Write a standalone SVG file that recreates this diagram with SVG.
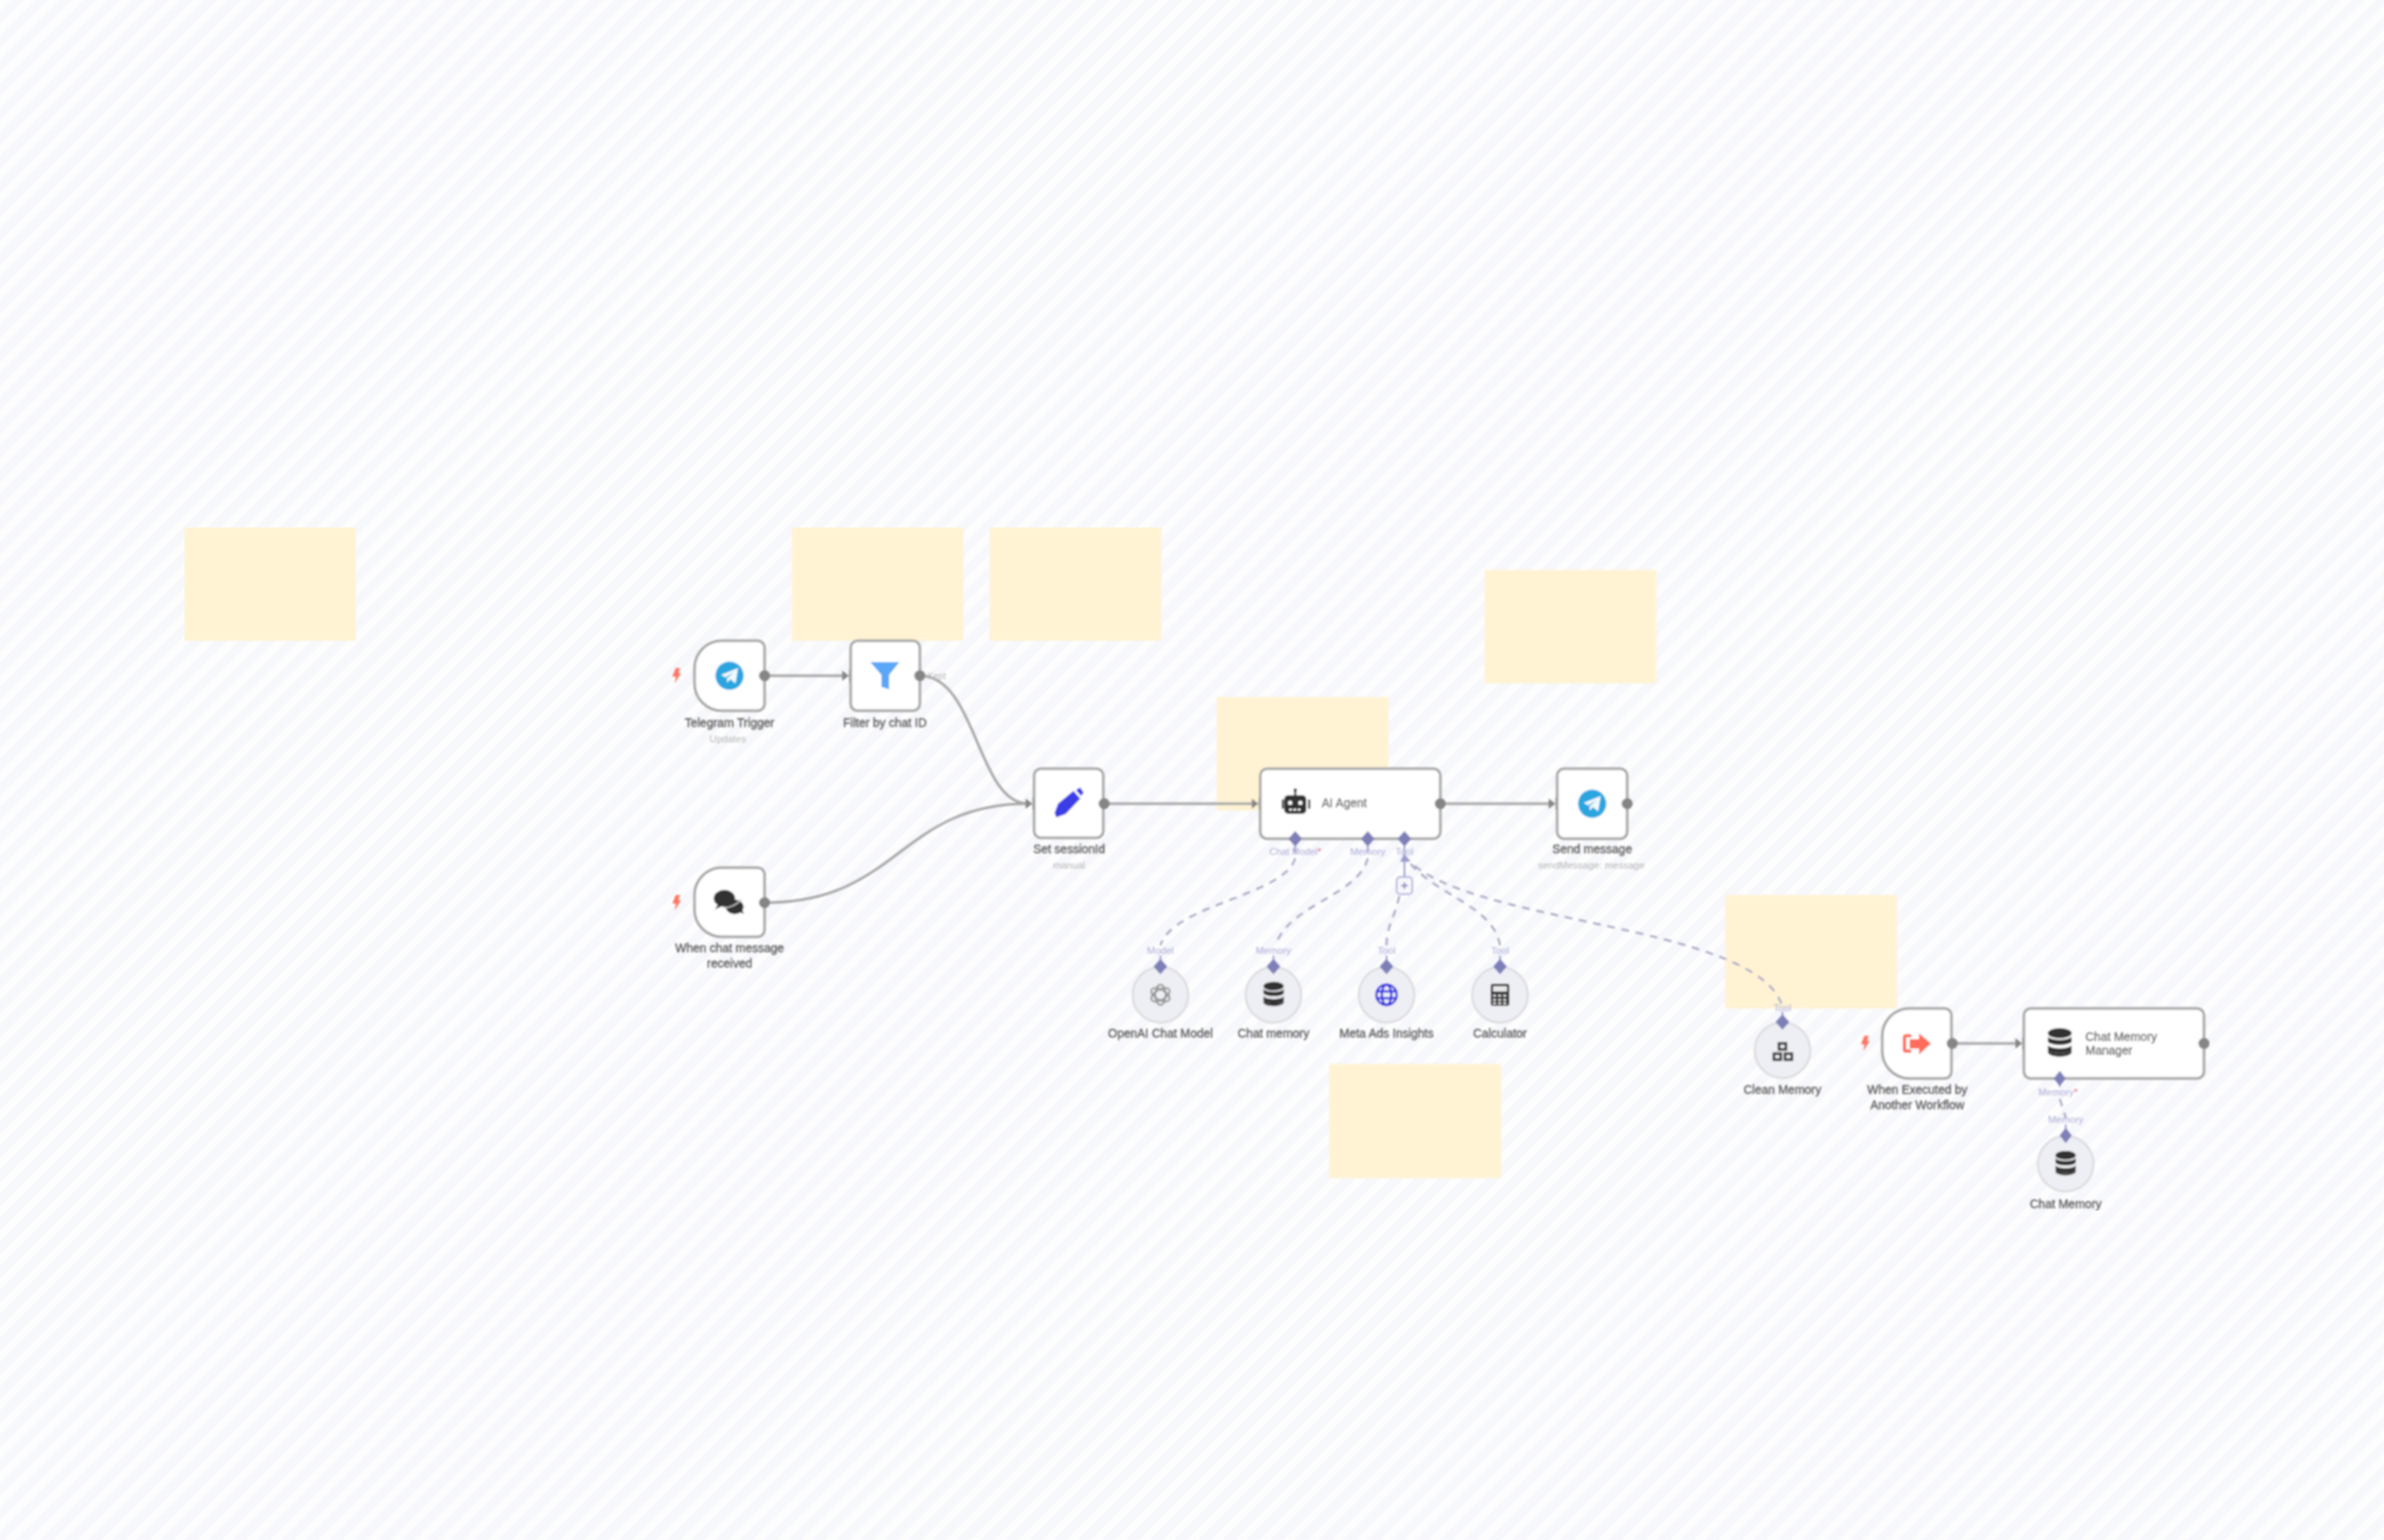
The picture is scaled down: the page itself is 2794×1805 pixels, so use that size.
<svg xmlns="http://www.w3.org/2000/svg" width="2794" height="1805" viewBox="0 0 2794 1805">
<style>
text{font-family:"Liberation Sans",Arial,sans-serif}
.box{fill:#fff;stroke:#a4a4a4;stroke-width:3}
.sticky{fill:#fff3d4}
.name{font-size:14px;fill:#5c5c5c;text-anchor:middle;font-weight:400;stroke:#5c5c5c;stroke-width:.35}
.sub{font-size:11.5px;fill:#b4b4b4;text-anchor:middle}
.port{font-size:11.5px;fill:#aaaad6;text-anchor:middle}
.req{fill:#f0556a}
.title{font-size:14px;fill:#5c5c5c;stroke:#5c5c5c;stroke-width:.3}
.dot{fill:#858585}
.sub-node{fill:#eeeff4;stroke:#dcdce0;stroke-width:2.5}
.dia{fill:#7f7fb8}
.stem{stroke:#a0a0d0;stroke-width:2;fill:none}
.main{fill:none;stroke:#a6a6a6;stroke-width:3}
.dash{fill:none;stroke:#a8a8c2;stroke-width:2.4;stroke-dasharray:9 8}
.tip{fill:#858585}
.bolt{fill:#ff7564}
.dark{fill:#333}
</style>
<defs>
<pattern id="bg" width="20" height="20" patternUnits="userSpaceOnUse" patternTransform="rotate(45)">
<rect width="20" height="20" fill="#f7f8fc"/>
<rect width="9" height="20" fill="#fdfdfe"/>
</pattern>
<filter id="soft" x="0" y="0" width="100%" height="100%"><feGaussianBlur stdDeviation="0.9"/></filter>
<g id="bolt-i"><path d="M-1-9 4-9 2-3 5-3-2 9-1 1-5 1Z" class="bolt"/></g>
<g id="tg"><circle r="16.500" fill="#2ca5e0"/><path d="M-10-1 10-9 7 9 1 4-3 8-3 3 5-4-5 2Z" fill="#f4fafd"/></g>
<g id="db"><ellipse cx="0" cy="-12" rx="14" ry="6" class="dark"/><path d="M-14-8C-10-3 10-3 14-8V-2C10 3-10 3-14-2ZM-14 2C-10 7 10 7 14 2V8C10 13-10 13-14 8Z" class="dark"/><path d="M-14 8C-10 13 10 13 14 8V11C10 17-10 17-14 11Z" class="dark"/></g>
<g id="tip-i"><path d="M-10-6-2 0-10 6Z" class="tip"/><rect x="-2" y="-7" width="4" height="14" class="tip"/></g>
</defs>
<rect width="2794" height="1805" fill="url(#bg)"/>
<g filter="url(#soft)">
<g id="stickies">
<rect class="sticky" x="216" y="618" width="201" height="133"/>
<rect class="sticky" x="928" y="618" width="201" height="133"/>
<rect class="sticky" x="1160" y="618" width="201" height="133"/>
<rect class="sticky" x="1740" y="668" width="201" height="133"/>
<rect class="sticky" x="1426" y="817" width="201" height="133"/>
<rect class="sticky" x="2022" y="1049" width="201" height="133"/>
<rect class="sticky" x="1558" y="1247" width="201" height="134"/>
</g>
<g id="connectors">
<path class="main" d="M896 792H990"/>
<path class="main" d="M1078 792C1145 792 1145 942 1205 942"/>
<path class="main" d="M896 1058C1054 1058 1054 942 1205 942"/>
<path class="main" d="M1294 942H1470"/>
<path class="main" d="M1688 942H1818"/>
<path class="main" d="M2288 1223H2365"/>
<use href="#tip-i" x="997" y="792"/>
<use href="#tip-i" x="1212" y="942"/>
<use href="#tip-i" x="1477" y="942"/>
<use href="#tip-i" x="1825" y="942"/>
<use href="#tip-i" x="2372" y="1223"/>
<path class="dash" d="M1518 1006C1505 1050 1375 1060 1360 1108"/>
<path class="dash" d="M1603 1006C1592 1050 1510 1060 1495 1108"/>
<path class="dash" d="M1625 1108C1625 1085 1635 1075 1640 1050"/>
<path class="dash" d="M1758 1108C1750 1060 1680 1050 1648 1006"/>
<path class="dash" d="M1646 1003C1710 1085 2060 1080 2089 1180"/>
<path class="dash" d="M2414 1288 2421 1310"/>
<path class="stem" d="M1518 983V1000M1603 983V1000M1646 983V1028"/>
<path d="M1646 1000 1641 1010H1651Z" fill="#9a9ad0"/>
<path class="stem" d="M1360 1133V1120M1492.500 1133V1120M1625 1133V1120M1758 1133V1120M2089 1198V1186M2421 1331V1318M2414 1264V1274"/>
<rect x="1637" y="1028" width="18" height="20" rx="4" fill="#f8f8fc" stroke="#b4b4e0" stroke-width="2"/>
<path d="M1642 1038H1650M1646 1034V1042" stroke="#8a8ac4" stroke-width="2"/>
</g>
<g id="telegram-trigger">
<path class="box" d="M846 751H888A8 8 0 0 1 896 759V825A8 8 0 0 1 888 833H846A32 32 0 0 1 814 801V783A32 32 0 0 1 846 751Z"/>
<use href="#tg" x="855" y="792"/><use href="#bolt-i" x="793" y="792"/>
<circle class="dot" cx="896" cy="792" r="6.500"/>
<text class="name" x="855" y="852">Telegram Trigger</text><text class="sub" x="853" y="870">Updates</text>
</g>
<g id="filter">
<rect class="box" x="997" y="751" width="81" height="82" rx="8"/>
<path d="M1020 776H1054L1042 791V808L1033 805V791Z" fill="#5aa7f7"/>
<circle class="dot" cx="1078" cy="792" r="6.500"/>
<text class="name" x="1037" y="852">Filter by chat ID</text>
<text x="1087" y="796" font-size="10.500" fill="#b5b5b5">Kept</text>
</g>
<g id="chat-trigger">
<path class="box" d="M846 1017H888A8 8 0 0 1 896 1025V1090A8 8 0 0 1 888 1098H846A32 32 0 0 1 814 1066V1049A32 32 0 0 1 846 1017Z"/>
<ellipse cx="849" cy="1053" rx="12.500" ry="10" class="dark"/><path d="M842 1059 838 1066 848 1061Z" class="dark"/>
<ellipse cx="861" cy="1063" rx="10.500" ry="8.500" class="dark"/><path d="M866 1069 872 1071 868 1063Z" class="dark"/>
<path d="M848 1064Q860 1064 869 1054" stroke="#ccc" stroke-width="1.500" fill="none"/>
<use href="#bolt-i" x="793" y="1058"/>
<circle class="dot" cx="896" cy="1058" r="6.500"/>
<text class="name" x="855" y="1116">When chat message</text><text class="name" x="855" y="1134">received</text>
</g>
<g id="set-session">
<rect class="box" x="1212" y="901" width="81" height="81" rx="8"/>
<path d="M1236 953 1240 942 1258 927 1266 936 1249 954 1238 958Z" fill="#3b3de6"/><path d="M1261 926 1266 923 1270 929 1267 933Z" fill="#3b3de6"/>
<circle class="dot" cx="1294" cy="942" r="6.500"/>
<text class="name" x="1253" y="1000">Set sessionId</text><text class="sub" x="1253" y="1018">manual</text>
</g>
<g id="ai-agent">
<rect class="box" x="1477" y="901" width="211" height="82" rx="8"/>
<rect x="1505" y="932" width="26" height="22" rx="5" class="dark"/><rect x="1502" y="937" width="2.500" height="11" class="dark"/><rect x="1533" y="937" width="2.500" height="11" class="dark"/>
<path d="M1518 932V926" stroke="#333" stroke-width="2.500"/><circle cx="1518" cy="926" r="2" class="dark"/>
<circle cx="1512" cy="941" r="2.500" fill="#fff"/><circle cx="1524" cy="941" r="2.500" fill="#fff"/><path d="M1511 949H1526" stroke="#fff" stroke-width="2" stroke-dasharray="3 2"/>
<text class="title" x="1549" y="946">AI Agent</text>
<circle class="dot" cx="1688" cy="942" r="6.500"/>
<path class="dia" d="M1518 974 1526 983 1518 992 1510 983Z"/><path class="dia" d="M1603 974 1611 983 1603 992 1595 983Z"/><path class="dia" d="M1646 974 1654 983 1646 992 1638 983Z"/>
<text class="port" x="1518" y="1002" style="font-size:11px">Chat Model<tspan class="req">*</tspan></text><text class="port" x="1603" y="1002">Memory</text><text class="port" x="1646" y="1002">Tool</text>
</g>
<g id="send-message">
<rect class="box" x="1825" y="901" width="82" height="82" rx="8"/>
<use href="#tg" x="1866" y="942"/>
<circle class="dot" cx="1907" cy="942" r="6.500"/>
<text class="name" x="1866" y="1000">Send message</text><text class="sub" x="1865" y="1018">sendMessage: message</text>
</g>
<g id="openai-model">
<circle class="sub-node" cx="1360" cy="1166" r="32.500"/>
<g fill="none" stroke="#949494" stroke-width="2"><ellipse cx="1360" cy="1166" rx="6" ry="12"/><ellipse cx="1360" cy="1166" rx="6" ry="12" transform="rotate(60 1360 1166)"/><ellipse cx="1360" cy="1166" rx="6" ry="12" transform="rotate(120 1360 1166)"/></g>
<path class="dia" d="M1360 1124 1368 1133 1360 1142 1352 1133Z"/>
<text class="port" x="1360" y="1118">Model</text><text class="name" x="1360" y="1216">OpenAI Chat Model</text>
</g>
<g id="chat-memory">
<circle class="sub-node" cx="1492.500" cy="1166" r="32.500"/>
<use href="#db" x="1492.500" y="1166" transform="translate(224 175) scale(.85)"/>
<path class="dia" d="M1492.500 1124 1500.500 1133 1492.500 1142 1484.500 1133Z"/>
<text class="port" x="1492.500" y="1118">Memory</text><text class="name" x="1492.500" y="1216">Chat memory</text>
</g>
<g id="meta-ads">
<circle class="sub-node" cx="1625" cy="1166" r="32.500"/>
<g fill="none" stroke="#2020e0" stroke-width="2.500"><circle cx="1625" cy="1166" r="12"/><ellipse cx="1625" cy="1166" rx="5.500" ry="12"/><path d="M1613 1162H1637M1613 1170H1637"/></g>
<path class="dia" d="M1625 1124 1633 1133 1625 1142 1617 1133Z"/>
<text class="port" x="1625" y="1118">Tool</text><text class="name" x="1625" y="1216">Meta Ads Insights</text>
</g>
<g id="calculator">
<circle class="sub-node" cx="1758" cy="1166" r="32.500"/>
<rect x="1747" y="1153" width="22" height="26" rx="3" fill="#3a3a3a"/><rect x="1750" y="1156" width="16" height="6" fill="#e8e8e8"/>
<path d="M1750 1167H1766M1750 1172H1766M1750 1176H1766" stroke="#e8e8e8" stroke-width="2" stroke-dasharray="3 3"/>
<path class="dia" d="M1758 1124 1766 1133 1758 1142 1750 1133Z"/>
<text class="port" x="1758" y="1118">Tool</text><text class="name" x="1758" y="1216">Calculator</text>
</g>
<g id="clean-memory">
<circle class="sub-node" cx="2089" cy="1231" r="32.500"/>
<g fill="#f4f4f7" stroke="#333" stroke-width="3"><rect x="2085" y="1223" width="8" height="7"/><rect x="2079" y="1235" width="8" height="7"/><rect x="2092" y="1235" width="8" height="7"/></g>
<path class="dia" d="M2089 1189 2097 1198 2089 1207 2081 1198Z"/>
<text class="port" x="2089" y="1185">Tool</text><text class="name" x="2089" y="1282">Clean Memory</text>
</g>
<g id="exec-trigger">
<path class="box" d="M2238 1182H2279A8 8 0 0 1 2287 1190V1256A8 8 0 0 1 2279 1264H2238A32 32 0 0 1 2206 1232V1214A32 32 0 0 1 2238 1182Z"/>
<path d="M2240 1214H2234Q2232 1214 2232 1216V1230Q2232 1232 2234 1232H2240" fill="none" stroke="#ff6d5a" stroke-width="4"/>
<path d="M2238 1218H2249V1211L2263 1223 2249 1236V1229H2238Z" fill="#ff6d5a"/>
<use href="#bolt-i" x="2186" y="1223"/>
<circle class="dot" cx="2288" cy="1223" r="6.500"/>
<text class="name" x="2247" y="1282">When Executed by</text><text class="name" x="2247" y="1300">Another Workflow</text>
</g>
<g id="memory-manager">
<rect class="box" x="2372" y="1182" width="211" height="82" rx="8"/>
<use href="#db" x="2414" y="1223"/>
<text class="title" x="2444" y="1220">Chat Memory</text><text class="title" x="2444" y="1236">Manager</text>
<circle class="dot" cx="2583" cy="1223" r="6.500"/>
<path class="dia" d="M2414 1255 2421 1264 2414 1273 2407 1264Z"/>
<text class="port" x="2412" y="1284">Memory<tspan class="req">*</tspan></text>
</g>
<g id="chat-memory-2">
<circle class="sub-node" cx="2421" cy="1364" r="32.500"/>
<use href="#db" x="2421" y="1364" transform="translate(363 205) scale(.85)"/>
<path class="dia" d="M2421 1322 2428 1331 2421 1340 2414 1331Z"/>
<text class="port" x="2421" y="1316">Memory</text><text class="name" x="2421" y="1416">Chat Memory</text>
</g>
</g>
</svg>
